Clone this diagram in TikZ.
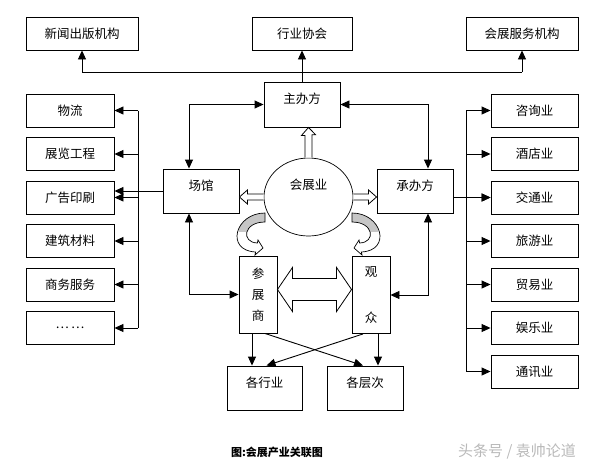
\documentclass[tikz,border=0pt]{standalone}
\usepackage{fontspec}
\setmainfont{Noto Sans CJK SC}
\usepackage{xcolor}
\usepackage{tikz}
\usetikzlibrary{arrows.meta,calc,shapes.geometric}

\newcommand\curvedband{(0,-4.5) .. controls (-30,-4.5) and (-40,33) .. (-9.4,34.5) -- (-10,37.5) -- (-2,30.5) -- (-7,22.5) -- (-7.6,25.5) .. controls (-24,25) and (-22,4.5) .. (0,4.5) -- cycle}

\tikzset{
  box/.style={draw, line width=0.9pt, inner sep=0pt, font=\fontsize{12.5}{21}\selectfont},
  colbox/.style={box, minimum width=88, minimum height=33},
  topbox/.style={box, minimum width=112, minimum height=33},
  midbox/.style={box, minimum width=76, minimum height=44, text height=21, text depth=23},
  tallbox/.style={box, minimum width=38, minimum height=77, align=center},
  link/.style={line width=0.9pt, -{Triangle[length=9pt,width=8pt]}},
  link2/.style={line width=0.9pt, {Triangle[length=9pt,width=8pt]}-{Triangle[length=9pt,width=8pt]}},
  hollow/.style={draw, line width=0.8pt, fill=white}
}

\begin{document}
\begin{tikzpicture}[x=1pt,y=-1pt]
\useasboundingbox (0,0) rectangle (597,466);

\node[topbox] (xinwen) at (82,33.5) {新闻出版机构};
\node[topbox, minimum width=100] (xiehui) at (302,33.5) {行业协会};
\node[topbox] (fuwu) at (522,33.5) {会展服务机构};

\node[midbox, minimum height=45] (zhuban) at (302,104.5) {主办方};
\node[midbox] (changguan) at (201,191) {场馆};
\node[midbox] (chengban) at (415,191) {承办方};
\node[draw, ellipse, line width=0.7pt, fill=white, minimum width=89, minimum height=78, inner sep=0pt,
      text height=10, text depth=26, font=\fontsize{12.5}{14}\selectfont] (huizhan) at (308.5,197) {会展业};

\node[tallbox] (canzhan) at (258,294.5) {参\\展\\商};
\node[tallbox] (guanzhong) at (371,295) {观\\[25pt]众};
\node[midbox, minimum width=75] (hangye) at (264.5,388) {各行业};
\node[midbox] (cengci) at (365,388) {各层次};

\foreach \t [count=\i] in {物流,展览工程,广告印刷,建筑材料,商务服务,…\,…}
  \node[colbox] (L\i) at (70,67+43.5*\i) {\t};
\foreach \t [count=\i] in {咨询业,酒店业,交通业,旅游业,贸易业,娱乐业,通讯业}
  \node[colbox, minimum width=87] (R\i) at (534.5,67+43.5*\i) {\t};

\coordinate (lbus) at (138,0);
\coordinate (rbus) at (466,0);
\coordinate (tbus) at (0,72);

\draw[line width=0.9pt] (lbus |- L1) -- (lbus |- L6);
\foreach \i in {1,...,6} \draw[link] (lbus |- L\i) -- (L\i.east);
\draw[line width=0.9pt] (rbus |- R1) -- (rbus |- R7);
\foreach \i in {1,...,7} \draw[link] (rbus |- R\i) -- (R\i.west);
\draw[link] (changguan.west) -- (changguan.west -| L3.east);
\draw[link] (chengban.east |- R3) -- (R3.west);

\draw[line width=0.9pt] (xinwen.south |- tbus) -- (fuwu.south |- tbus);
\draw[link] (xinwen.south |- tbus) -- (xinwen.south);
\draw[link] (fuwu.south |- tbus) -- (fuwu.south);
\draw[link] (zhuban.north) -- (xiehui.south);

\draw[link2] ([xshift=-12pt]changguan.north) |- (zhuban.west);
\draw[link2] ([xshift=13pt]chengban.north) |- (zhuban.east);
\draw[link2] ([xshift=-12pt]changguan.south) |- (canzhan.west);
\draw[link2] ([xshift=13pt]chengban.south) |- (guanzhong.east);

\draw[link] ([xshift=-6pt]canzhan.south) -- ([xshift=-6pt]canzhan.south |- hangye.north);
\draw[link] ([xshift=7pt]guanzhong.south) -- ([xshift=7pt]guanzhong.south |- cengci.north);
\draw[link] ([xshift=7pt]canzhan.south) -- ([xshift=-2pt]cengci.north);
\draw[link] ([xshift=-8pt]guanzhong.south) -- ([xshift=2pt]hangye.north);

\draw[hollow] ($(huizhan.north)+(3.5,0)$) -- ++(0,-23) -- ++(3.5,0) -- (huizhan.north |- zhuban.south)
  -- ++(-7,8) -- ++(3.5,0) -- ($(huizhan.north)+(-3.5,0)$);
\draw[hollow] ($(huizhan.west)+(0,3)$) -- ($(huizhan.west -| changguan.east)+(8,3)$) -- ++(0,4)
  -- (huizhan.west -| changguan.east) -- ++(8,-7) -- ++(0,4) -- ($(huizhan.west)+(0,-3)$);
\draw[hollow] ($(huizhan.east)+(0,3)$) -- ($(huizhan.east -| chengban.west)+(-8,3)$) -- ++(0,4)
  -- (huizhan.east -| chengban.west) -- ++(-8,-7) -- ++(0,4) -- ($(huizhan.east)+(0,-3)$);
\draw[hollow] ([yshift=5pt]canzhan.east) -- ++(15,-22) -- ++(0,11)
  -- ($([yshift=5pt]canzhan.east -| guanzhong.west)+(-15,-11)$) -- ++(0,-11)
  -- ([yshift=5pt]canzhan.east -| guanzhong.west) -- ++(-15,22) -- ++(0,-11)
  -- ($([yshift=5pt]canzhan.east)+(15,11)$) -- ++(0,11) -- cycle;

\foreach \s/\dx in {1/-43.5,-1/43.5}{
  \begin{scope}[shift={($(huizhan.center)+(\dx,20.5)$)}, xscale=\s]
    \fill[white] \curvedband;
    \begin{scope}
      \clip (-26,-6) rectangle (2,14);
      \fill[gray!45] \curvedband;
    \end{scope}
    \draw[line width=0.7pt] \curvedband;
  \end{scope}
}

\node[font=\bfseries\fontsize{11}{13}\selectfont] (caption) at (277,452) {图:会展产业关联图};
\node[text=gray!55, font=\fontsize{15}{17}\selectfont] (mark) at (517,452) {头条号 / 袁帅论道};
\end{tikzpicture}
\end{document}
